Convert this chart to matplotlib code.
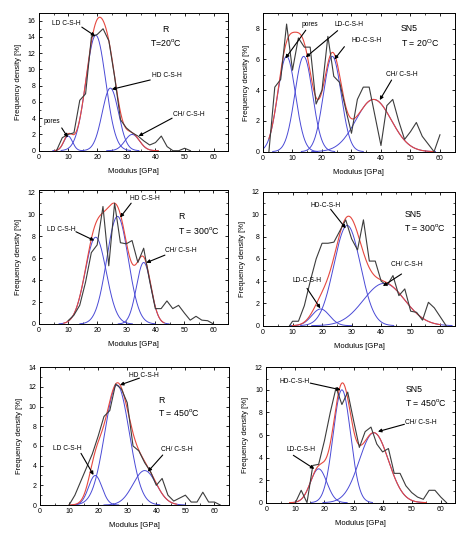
import numpy as np
import matplotlib as mpl
mpl.use('Agg')
import matplotlib.pyplot as plt

mpl.rc('figure', facecolor='white')
mpl.rc('font', family=['Liberation Sans', 'DejaVu Sans'], size=5)
mpl.rc('mathtext', default='regular')
mpl.rc('axes', linewidth=0.7, labelsize=5.5)
mpl.rc('xtick', labelsize=5, direction='in', top=True)
mpl.rc('ytick', labelsize=5, direction='in', right=True)
mpl.rc('xtick.major', size=2.5, width=0.6, pad=2.5)
mpl.rc('ytick.major', size=2.5, width=0.6, pad=2.5)
mpl.rc('xtick.minor', size=1.5, width=0.5, visible=True)
mpl.rc('ytick.minor', size=1.5, width=0.5, visible=True)

# ---------------- measured distributions (black) ----------------
r20_mod = [6, 8, 10, 12, 14, 16, 18, 20, 22, 24, 26, 28, 30, 32, 34, 36, 38, 40, 42, 44, 46, 48, 50, 52]
r20_freq = [0, 1.6, 2.0, 2.2, 6.2, 7.0, 14.0, 14.3, 15.0, 13.5, 9.0, 3.8, 2.8, 2.2, 1.8, 1.2, 0.7, 1.0, 1.8, 0.5, 0, 0, 0.3, 0]

sn20_mod = [2, 4, 6, 8, 10, 12, 14, 16, 18, 20, 22, 24, 26, 28, 30, 32, 34, 36, 38, 40,
            42, 44, 46, 48, 50, 52, 54, 56, 58, 60]
sn20_freq = [0, 4.2, 4.7, 8.3, 5.3, 7.4, 6.8, 6.8, 3.1, 4.0, 7.5, 4.9, 4.5, 2.8, 1.2, 3.4, 4.2, 4.2, 2.3, 0.4,
             3.0, 3.4, 2.0, 0.8, 1.3, 1.9, 1.0, 0.5, 0, 1.1]

r300_mod = [10, 12, 14, 16, 18, 20, 22, 24, 26, 28, 30, 32, 34, 36, 38, 40, 42, 44, 46, 48, 50, 52, 54, 56, 58, 60]
r300_freq = [0.3, 0.8, 1.7, 3.8, 6.5, 7.2, 10.7, 5.3, 11.0, 7.4, 7.3, 7.6, 5.6, 6.9, 4.0, 1.4, 1.4, 2.1, 1.4, 1.7,
             1.0, 0.35, 0.7, 0.35, 0.3, 0]

sn300_mod = [9, 10, 12, 14, 16, 18, 20, 22, 24, 26, 28, 30, 32, 34, 36, 38, 40, 42, 44, 46, 48, 50, 52, 54,
             56, 58, 60, 62]
sn300_freq = [0, 0.4, 0.4, 1.8, 4.0, 6.0, 7.4, 7.4, 7.5, 8.5, 9.5, 7.8, 6.8, 9.5, 5.8, 5.8, 4.0, 3.6, 4.5, 2.7,
              3.3, 1.3, 1.2, 0.5, 2.1, 1.6, 0.8, 0]

r450_mod = [10, 12, 14, 16, 18, 20, 22, 24, 26, 28, 30, 32, 34, 36, 38, 40, 42, 44, 46, 48, 50, 52, 54, 56, 58, 60, 62]
r450_freq = [0, 1.0, 2.4, 3.8, 5.2, 7.0, 9.0, 9.6, 12.3, 11.8, 10.4, 6.0, 5.5, 4.3, 3.4, 2.0, 2.7, 1.0, 0.4, 0.7,
             1.0, 0.3, 0.3, 1.3, 0.3, 0.3, 0]

sn450_mod = [10, 12, 14, 16, 18, 20, 22, 24, 26, 28, 30, 32, 34, 36, 38, 40, 42, 44, 46, 48, 50, 52, 54, 56, 58, 60, 62]
sn450_freq = [0, 1.1, 0, 3.3, 3.4, 5.5, 8.0, 10.2, 8.7, 9.8, 7.3, 4.9, 6.3, 6.7, 5.2, 4.5, 4.8, 2.6, 2.6, 1.5,
              0.9, 0.5, 0.3, 1.1, 1.1, 0.5, 0]

# ---------------- gaussian fit components (blue), red = sum ----------------
r20_mu, r20_sd, r20_amp = [10, 19.5, 24.5, 32], [1.5, 3.4, 2.8, 2.5], [1.8, 14.2, 7.7, 2.0]
sn20_mu, sn20_sd, sn20_amp = [8, 13.8, 23.5, 37.5], [3.0, 3.0, 3.0, 6.0], [6.2, 6.2, 6.2, 3.4]
r300_mu, r300_sd, r300_amp = [19.5, 27, 36], [3.6, 3.7, 2.5], [7.9, 9.8, 5.6]
sn300_mu, sn300_sd, sn300_amp = [19.5, 28.5, 41], [3.0, 4.5, 7.0], [1.5, 9.0, 3.8]
r450_mu, r450_sd, r450_amp = [19, 26.5, 36], [2.3, 4.2, 4.0], [3.0, 12.2, 3.5]
sn450_mu, sn450_sd, sn450_amp = [18, 26, 37], [2.8, 3.0, 5.0], [3.0, 10.0, 6.2]

# fit ranges of the red envelope
r20_fit = (5.5, 41)
sn20_fit = (2, 58)
r300_fit = (8.5, 43)
sn300_fit = (10, 60)
r450_fit = (10, 47)
sn450_fit = (8, 55)

BLACK = '#3c3c3c'
RED = '#e5483f'
BLUE = '#4a4ad6'


def gauss(x, mu, sd, amp):
    return amp*np.exp(-(x-mu)**2/(2.*sd**2))


W, H = 474, 539
fig = plt.figure(figsize=(W/100., H/100.), dpi=100)


def frame(px):
    # px = (left, top, right, bottom) in pixels
    l, t, r, b = px
    return [l/W, 1-b/H, (r-l)/W, (b-t)/H]


def panel(px, mod, freq, mu, sd, amp, fit, ylim, yticks, notes, arrows, title):
    ax = fig.add_axes(frame(px))
    for m, s, a in zip(mu, sd, amp):
        xx = np.linspace(max(0, m-3.5*s), min(64, m+3.5*s), 200)
        ax.plot(xx, gauss(xx, m, s, a), color=BLUE, lw=0.7)
    xx = np.linspace(fit[0], fit[1], 400)
    tot = sum(gauss(xx, m, s, a) for m, s, a in zip(mu, sd, amp))
    ax.plot(xx, tot, color=RED, lw=0.8)
    ax.plot(mod, freq, color=BLACK, lw=0.8)
    for txt, (x, y) in notes:
        ax.text(x, y, txt, ha='left', va='center', fontsize=4.8)
    for tail, tip in arrows:
        ax.annotate('', xy=tip, xytext=tail,
                    arrowprops=dict(arrowstyle='-|>', color='k', lw=0.8, mutation_scale=5,
                                    shrinkA=0, shrinkB=0))
    for txt, (x, y) in title:
        ax.text(x, y, txt, ha='left', va='center', fontsize=6.3)
    ax.set_xlim(0, 65)
    ax.set_ylim(*ylim)
    ax.set_xticks([0, 10, 20, 30, 40, 50, 60])
    ax.set_yticks(yticks)
    ax.xaxis.set_minor_locator(mpl.ticker.MultipleLocator(5))
    ax.yaxis.set_minor_locator(mpl.ticker.MultipleLocator(1))
    ax.set_xlabel('Modulus [GPa]', labelpad=5)
    ax.set_ylabel('Frequency density [%]', labelpad=4)
    return ax


panel((39, 13.3, 228.3, 150.7), r20_mod, r20_freq, r20_mu, r20_sd, r20_amp, r20_fit,
      (0, 16.9), range(0, 17, 2),
      [('LD C-S-H', (4.4, 15.7)), ('HD C-S-H', (38.8, 9.2)), ('CH/ C-S-H', (46, 4.4)), ('pores', (1.5, 3.6))],
      [((14.7, 15.2), (19.3, 14.1)), ((38.2, 8.7), (25, 7.55)), ((45.7, 4.0), (34.2, 1.8)),
       ((7.8, 2.8), (9.9, 1.64))],
      [('R', (42.3, 14.85)), ('T=20$^o$C', (38.2, 13.3))])

panel((263, 13.3, 454.7, 151.7), sn20_mod, sn20_freq, sn20_mu, sn20_sd, sn20_amp, sn20_fit,
      (0, 9), range(0, 9, 2),
      [('pores', (13.1, 8.24)), ('LD-C-S-H', (24.2, 8.24)), ('HD-C-S-H', (29.9, 7.26)), ('CH/ C-S-H', (41.6, 5.05))],
      [((14.5, 7.9), (7.6, 6.07)), ((25.3, 7.87), (14.5, 6.14)), ((27.6, 6.83), (24.2, 6.0)),
       ((43.6, 4.66), (39.6, 3.36))],
      [('SN5', (46.8, 8.0)), ('T = 20$^O$C', (46.8, 7.05))])

panel((39, 190, 228, 324), r300_mod, r300_freq, r300_mu, r300_sd, r300_amp, r300_fit,
      (0, 12.2), range(0, 13, 2),
      [('LD C-S-H', (2.9, 8.6)), ('HD C-S-H', (31.2, 11.4)), ('CH/ C-S-H', (43.3, 6.7))],
      [((12.7, 8.4), (19, 7.6)), ((31.7, 11.0), (27.9, 9.7)), ((43.3, 6.27), (36.9, 5.58))],
      [('R', (47.9, 9.8)), ('T = 300$^o$C', (47.9, 8.55))])

panel((263, 192, 455, 325.7), sn300_mod, sn300_freq, sn300_mu, sn300_sd, sn300_amp, sn300_fit,
      (0, 12), range(0, 13, 2),
      [('HD-C-S-H', (16.2, 10.8)), ('LD-C-S-H', (10.1, 4.1)), ('CH/ C-S-H', (43.4, 5.45))],
      [((22.9, 10.45), (28, 8.74)), ((14.9, 3.35), (19.4, 1.56)), ((46.9, 4.64), (40.6, 3.56))],
      [('SN5', (47.8, 10.0)), ('T = 300$^o$C', (47.8, 8.8))])

panel((40, 367.3, 229, 505), r450_mod, r450_freq, r450_mu, r450_sd, r450_amp, r450_fit,
      (0, 14), range(0, 15, 2),
      [('HD C-S-H', (30.5, 13.2)), ('LD C-S-H', (4.4, 5.76)), ('CH/ C-S-H', (41.6, 5.6))],
      [((34.2, 12.9), (27.5, 12.2)), ((14.1, 5.25), (18.4, 3.05)), ((42.2, 5.08), (37.1, 3.39))],
      [('R', (40.5, 10.6)), ('T = 450$^o$C', (40.5, 9.4))])

panel((266.3, 367.3, 455.3, 502.7), sn450_mod, sn450_freq, sn450_mu, sn450_sd, sn450_amp, sn450_fit,
      (0, 12), range(0, 13, 2),
      [('HD-C-S-H', (4.4, 10.7)), ('LD-C-S-H', (7.0, 4.7)), ('CH/ C-S-H', (47.8, 7.1))],
      [((15.1, 10.6), (25.6, 10.0)), ((9.3, 4.2), (16.5, 3.0)), ((47.5, 6.95), (38.4, 6.3))],
      [('SN5', (47.8, 10.05)), ('T = 450$^o$C', (47.8, 8.87))])

plt.savefig('out.png', dpi=100)
